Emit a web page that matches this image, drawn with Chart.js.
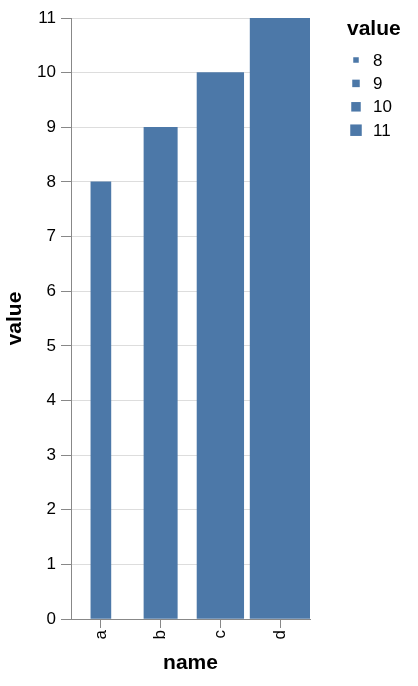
<!DOCTYPE html>
<html>
<head>
<meta charset="utf-8">
<script src="https://cdn.jsdelivr.net/npm/chart.js@4"></script>
<style>
  html, body { margin: 0; padding: 0; background: #fff; }
  #wrap { width: 418px; height: 686px; position: relative; }
</style>
</head>
<body>
<div id="wrap"><canvas id="c"></canvas></div>
<script>
const categories = ['a', 'b', 'c', 'd'];
const values = [8, 9, 10, 11];
const yTicks = [0, 1, 2, 3, 4, 5, 6, 7, 8, 9, 10, 11];
const legendValues = [8, 9, 10, 11];

const BAR_COLOR = '#4c78a8';
const FONT = '"Liberation Sans", Arial, Helvetica, sans-serif';
const vMin = Math.min(...legendValues), vMax = Math.max(...legendValues);
// size scale: value -> bar width (px)
function barWidth(v) { return 20 + (v - vMin) * (60 - 20) / (vMax - vMin); }
function symbolSide(v) { return 5.5 + (v - vMin) * (11.5 - 5.5) / (vMax - vMin); }

const datasets = categories.map((cat, i) => ({
  label: cat,
  data: categories.map((c, j) => (j === i ? values[i] : null)),
  backgroundColor: BAR_COLOR,
  borderWidth: 0,
  barThickness: barWidth(values[i]),
  grouped: false,
  skipNull: true
}));

const legendPlugin = {
  id: 'sizeLegend',
  afterDraw(chart) {
    const ctx = chart.ctx;
    ctx.save();
    ctx.fillStyle = '#000';
    ctx.font = 'bold 21px ' + FONT;
    ctx.textBaseline = 'alphabetic';
    ctx.textAlign = 'left';
    ctx.fillText('value', 347, 35);
    ctx.font = '17px ' + FONT;
    ctx.textBaseline = 'middle';
    legendValues.forEach((v, i) => {
      const cy = 60 + i * 23.4;
      const s = symbolSide(v);
      ctx.fillStyle = BAR_COLOR;
      ctx.fillRect(356 - s / 2, cy - s / 2, s, s);
      ctx.fillStyle = '#000';
      ctx.fillText(String(v), 373, cy + 1);
    });
    ctx.restore();
  }
};

new Chart(document.getElementById('c'), {
  type: 'bar',
  data: { labels: categories, datasets },
  options: {
    responsive: true,
    maintainAspectRatio: false,
    animation: false,
    layout: { padding: { top: 18, right: 108, left: 0, bottom: 0 } },
    plugins: { legend: { display: false }, tooltip: { enabled: false } },
    scales: {
      x: {
        type: 'category',
        offset: true,
        grid: { display: true, offset: false, drawOnChartArea: false, tickColor: '#888', tickLength: 9, tickWidth: 1 },
        border: { color: '#888', width: 1 },
        ticks: { color: '#000', font: { family: FONT, size: 17 }, minRotation: 90, maxRotation: 90, padding: 2 },
        title: { display: true, text: 'name', color: '#000', font: { family: FONT, size: 21, weight: 'bold' }, padding: { top: 0, bottom: 10 } },
        afterFit(scale) { scale.height = 67; }
      },
      y: {
        min: 0, max: 11,
        afterBuildTicks(scale) { scale.ticks = yTicks.map(v => ({ value: v })); },
        grid: { color: '#ddd', tickColor: '#888', tickLength: 10, lineWidth: 1 },
        border: { color: '#888', width: 1 },
        ticks: { color: '#000', font: { family: FONT, size: 17 }, padding: 5 },
        title: { display: true, text: 'value', color: '#000', font: { family: FONT, size: 21, weight: 'bold' }, padding: { top: 3, bottom: 0 } },
        afterFit(scale) { scale.width = 71; }
      }
    }
  },
  plugins: [legendPlugin]
});
</script>
</body>
</html>
